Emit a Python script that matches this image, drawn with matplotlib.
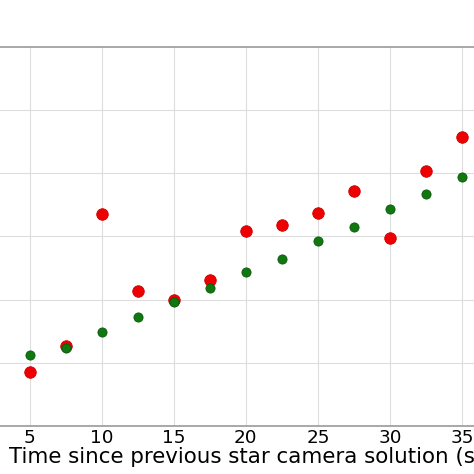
import matplotlib
matplotlib.use("Agg")
import matplotlib.pyplot as plt

# time since previous star camera solution (s)
times = [5, 7.5, 10, 12.5, 15, 17.5, 20, 22.5, 25, 27.5, 30, 32.5, 35]
# red series
err_red = [8.55, 12.6, 33.6, 21.3, 19.9, 23.1, 30.8, 31.8, 33.7, 37.2,
           29.8, 40.4, 45.8]
# green series
err_green = [11.3, 12.3, 14.8, 17.2, 19.7, 21.8, 24.3, 26.5, 29.3, 31.5,
             34.4, 36.7, 39.4]
xticks = [5, 10, 15, 20, 25, 30, 35]

fig = plt.figure(figsize=(4.74, 4.74), dpi=100)
# axes run past the figure edges (the picture is a crop)
ax = fig.add_axes([-0.0895, 0.1013, 1.2162, 0.7996])

ax.plot(times, err_red, "o", color="#ee0000", mec="#cc0000",
        ms=8.3, mew=0.6, zorder=3)
ax.plot(times, err_green, "o", color="#117711", mec="#0a5a0a",
        ms=6.6, mew=0.6, zorder=4)

ax.set_xlim(0, 40)
ax.set_ylim(0, 60)
ax.set_xticks(xticks)
ax.set_yticks(range(10, 51, 10))
ax.grid(True, color="#dddddd", linewidth=0.8)
ax.set_axisbelow(True)

for side in ["top", "bottom"]:
    ax.spines[side].set_color("#999999")
    ax.spines[side].set_linewidth(1.2)
for side in ["left", "right"]:
    ax.spines[side].set_visible(False)

ax.tick_params(axis="both", length=0, labelsize=13.2, pad=2.5)
ax.tick_params(axis="y", labelleft=False)
ax.set_xlabel("Time since previous star camera solution (s)",
              fontsize=15.4, labelpad=0)

fig.savefig("out.png", dpi=100)
